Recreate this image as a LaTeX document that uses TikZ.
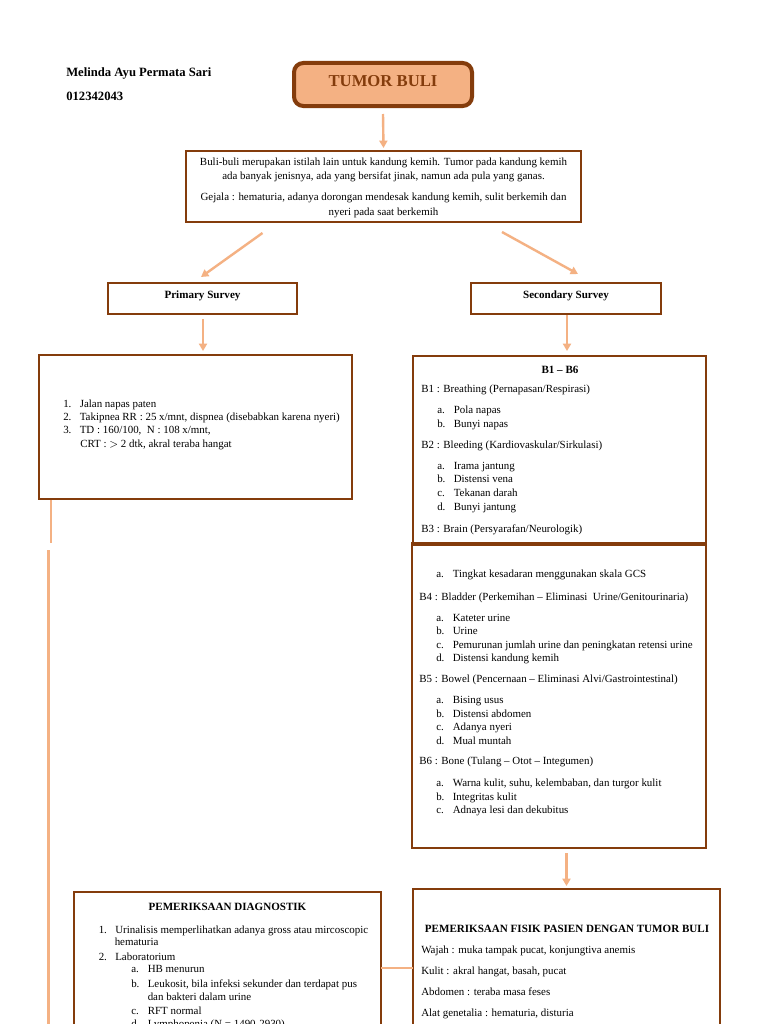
\documentclass[tikz,border=0pt]{standalone}
\usepackage{fontspec}
\setmainfont{Liberation Serif}
\usetikzlibrary{arrows.meta,fit}
\definecolor{brn}{HTML}{843C0C}
\definecolor{pch}{HTML}{F4B183}
\newcommand\mylbl[1]{\makebox[12.4pt][l]{#1}}
\begin{document}
\begin{tikzpicture}[x=0.75pt,y=-0.75pt,
  box/.style={draw=brn,line width=2.2pt,inner sep=0pt,outer sep=0pt},
  arr/.style={draw=pch,line width=1.8pt,-{Triangle[length=5.5pt,width=6pt]}},
  lnk/.style={draw=pch,line width=1.8pt},
  txt/.style={anchor=base west,inner sep=0pt,font=\fontsize{8.2}{10}\selectfont},
  ctxt/.style={anchor=base,inner sep=0pt,font=\fontsize{8.2}{10}\selectfont},
  hd/.style={anchor=base,inner sep=0pt,font=\fontsize{8.3}{10}\selectfont\bfseries}]
\fill[white] (0,0) rectangle (768,1024);
\useasboundingbox (0,0) rectangle (768,1024);
\clip (0,0) rectangle (768,1024);

% header
\node[txt,font=\fontsize{9.5}{11}\selectfont\bfseries] (author) at (66,77) {Melinda Ayu Permata Sari};
\node[txt,font=\fontsize{9.5}{11}\selectfont\bfseries] (nim) at (66,100) {012342043};

% boxes
\node[box,rounded corners=7pt,fill=pch,line width=3pt,fit={(294,63)(472,106)}] (tumor) {};
\node[anchor=base,inner sep=0pt,font=\fontsize{12.5}{14}\selectfont\bfseries,text=brn] (tumort) at (383,87) {TUMOR BULI};
\node[box,fit={(186,151)(581,222)}] (intro) {};
\node[box,fit={(108,283)(297,314)}] (prim) {};
\node[box,fit={(471,283)(661,314)}] (sec) {};
\node[box,fit={(39,355)(352,499)}] (pbox) {};
\node[box,fit={(413,356)(706,545)}] (bA) {};
\node[box,fit={(412,543)(706,848)}] (bB) {};
\node[box,fit={(74,892)(381,1100)}] (diag) {};
\node[box,fit={(413,889)(720,1100)}] (fisik) {};

% intro text
\node[ctxt] (i1) at (383.5,165) {Buli-buli merupakan istilah lain untuk kandung kemih. Tumor pada kandung kemih};
\node[ctxt] (i2) at (383.5,179.5) {ada banyak jenisnya, ada yang bersifat jinak, namun ada pula yang ganas.};
\node[ctxt] (i3) at (383.5,200) {Gejala : hematuria, adanya dorongan mendesak kandung kemih, sulit berkemih dan};
\node[ctxt] (i4) at (383.5,215.5) {nyeri pada saat berkemih};

% survey titles
\node[hd] (primt) at (202.5,298.5) {Primary Survey};
\node[hd] (sect) at (566,298.5) {Secondary Survey};

% primary list
\node[txt] (p1) at (63,407) {\mylbl{1.}Jalan napas paten};
\node[txt] (p2) at (63,420) {\mylbl{2.}Takipnea RR : 25 x/mnt, dispnea (disebabkan karena nyeri)};
\node[txt] (p3) at (63,433.5) {\mylbl{3.}TD : 160/100,\ \ N : 108 x/mnt,};
\node[txt] (p4) at (80,447) {CRT : $>$ 2 dtk, akral teraba hangat};

% B1-B6 first box
\node[hd] (bt) at (560,373) {B1 -- B6};
\node[txt] (b1) at (421,392.5) {B1 : Breathing (Pernapasan/Respirasi)};
\node[txt] (b1a) at (437,413.5) {\mylbl{a.}Pola napas};
\node[txt] (b1b) at (437,427.5) {\mylbl{b.}Bunyi napas};
\node[txt] (b2) at (421,448) {B2 : Bleeding (Kardiovaskular/Sirkulasi)};
\node[txt] (b2a) at (437,469) {\mylbl{a.}Irama jantung};
\node[txt] (b2b) at (437,482.5) {\mylbl{b.}Distensi vena};
\node[txt] (b2c) at (437,496) {\mylbl{c.}Tekanan darah};
\node[txt] (b2d) at (437,510) {\mylbl{d.}Bunyi jantung};
\node[txt] (b3) at (421,532) {B3 : Brain (Persyarafan/Neurologik)};

% second box
\node[txt] (b3a) at (436,577.5) {\mylbl{a.}Tingkat kesadaran menggunakan skala GCS};
\node[txt] (b4) at (419,600) {B4 : Bladder (Perkemihan -- Eliminasi\ \ Urine/Genitourinaria)};
\node[txt] (b4a) at (436,621) {\mylbl{a.}Kateter urine};
\node[txt] (b4b) at (436,634) {\mylbl{b.}Urine};
\node[txt] (b4c) at (436,648.5) {\mylbl{c.}Pemurunan jumlah urine dan peningkatan retensi urine};
\node[txt] (b4d) at (436,661) {\mylbl{d.}Distensi kandung kemih};
\node[txt] (b5) at (419,682.5) {B5 : Bowel (Pencernaan -- Eliminasi Alvi/Gastrointestinal)};
\node[txt] (b5a) at (436,703) {\mylbl{a.}Bising usus};
\node[txt] (b5b) at (436,717) {\mylbl{b.}Distensi abdomen};
\node[txt] (b5c) at (436,730) {\mylbl{c.}Adanya nyeri};
\node[txt] (b5d) at (436,744) {\mylbl{d.}Mual muntah};
\node[txt] (b6) at (419,764.5) {B6 : Bone (Tulang -- Otot -- Integumen)};
\node[txt] (b6a) at (436,786) {\mylbl{a.}Warna kulit, suhu, kelembaban, dan turgor kulit};
\node[txt] (b6b) at (436,800) {\mylbl{b.}Integritas kulit};
\node[txt] (b6c) at (436,813) {\mylbl{c.}Adnaya lesi dan dekubitus};

% diagnostic
\node[hd] (dt) at (227.5,910) {PEMERIKSAAN DIAGNOSTIK};
\node[txt] (d1) at (98.5,933) {\mylbl{1.}Urinalisis memperlihatkan adanya gross atau mircoscopic};
\node[txt] (d1b) at (114.5,945) {hematuria};
\node[txt] (d2) at (98.5,960) {\mylbl{2.}Laboratorium};
\node[txt] (d2a) at (131,972.5) {\mylbl{a.}HB menurun};
\node[txt] (d2b) at (131,987) {\mylbl{b.}Leukosit, bila infeksi sekunder dan terdapat pus};
\node[txt] (d2bb) at (147.5,1000) {dan bakteri dalam urine};
\node[txt] (d2c) at (131,1014) {\mylbl{c.}RFT normal};
\node[txt] (d2d) at (131,1027) {\mylbl{d.}Lymphopenia (N = 1490-2930)};

% fisik
\node[hd] (ft) at (567,932) {PEMERIKSAAN FISIK PASIEN DENGAN TUMOR BULI};
\node[txt] (f1) at (421,953.5) {Wajah : muka tampak pucat, konjungtiva anemis};
\node[txt] (f2) at (421,974.5) {Kulit : akral hangat, basah, pucat};
\node[txt] (f3) at (421,995) {Abdomen : teraba masa feses};
\node[txt] (f4) at (421,1016) {Alat genetalia : hematuria, disturia};

% connectors
\draw[arr] ([shift={(0,8)}]tumor.south) -- ([shift={(0,-3)}]intro.north);
\draw[arr] ([shift={(-121,11)}]intro.south) -- ([shift={(-1.5,-6)}]prim.north);
\draw[arr] ([shift={(118.5,10)}]intro.south) -- ([shift={(12,-9)}]sec.north);
\draw[arr] ([shift={(0.5,5)}]prim.south) -- ([shift={(7.5,-4)}]pbox.north);
\draw[arr] ([shift={(1,1)}]sec.south) -- ([shift={(7.5,-5)}]bA.north);
\draw[arr] ([shift={(7.5,5)}]bB.south) -- ([shift={(0,-3)}]fisik.north);
\coordinate (lA) at (51,543);
\coordinate (lB) at (48.5,550);
\coordinate (lC) at (48.5,1030);
\draw[lnk] ([shift={(12,1)}]pbox.south west) -- (lA);
\draw[lnk] (lB) -- (lC);
\draw[lnk] ([shift={(0,76)}]diag.north east) -- ([shift={(0,79)}]fisik.north west);
\end{tikzpicture}
\end{document}
